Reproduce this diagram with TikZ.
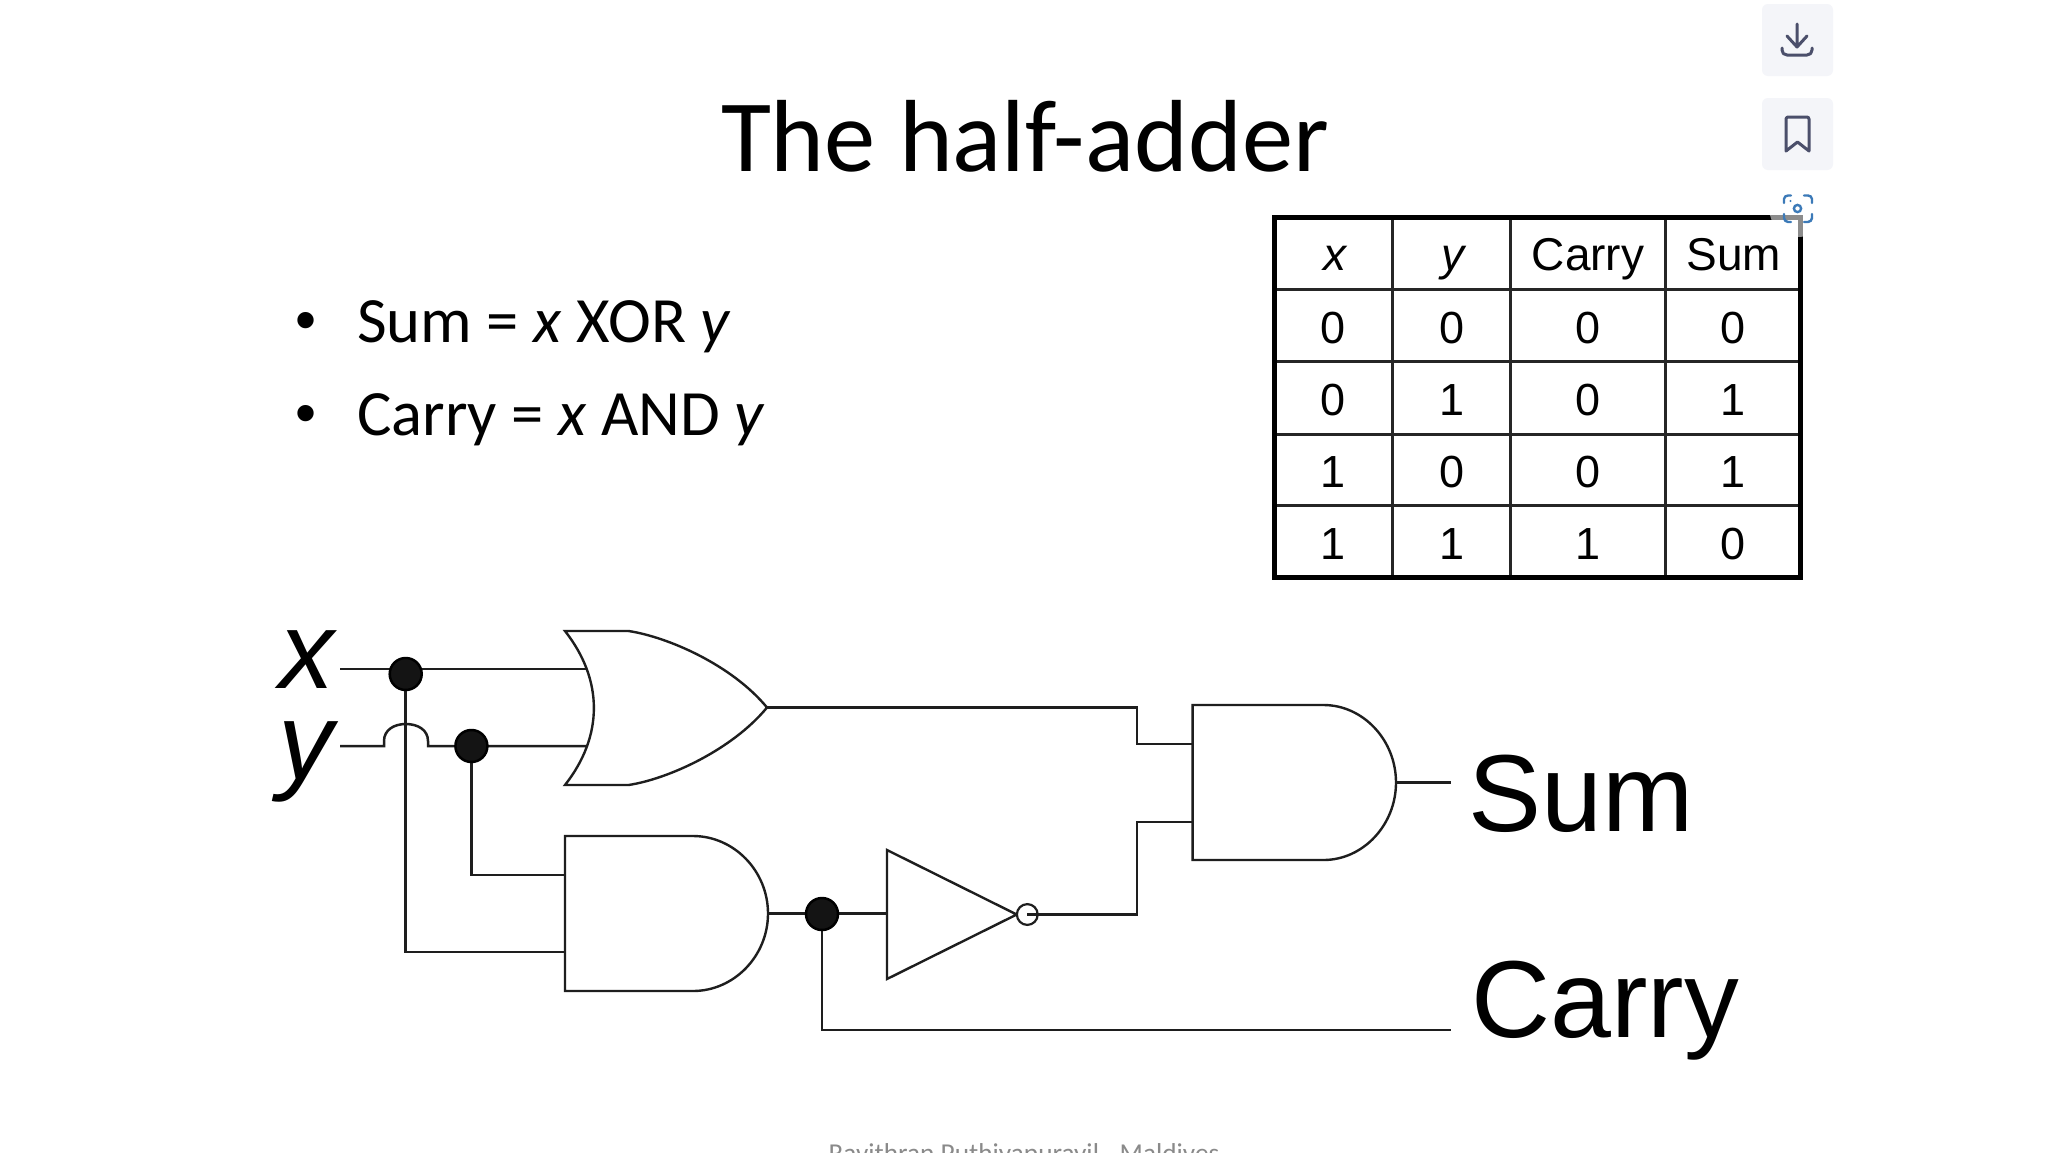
\documentclass[tikz,border=0pt]{standalone}
\usepackage{fontspec}
\setmainfont{Liberation Sans}
\newfontfamily\slidefont{Carlito}
\definecolor{wirecol}{HTML}{1E1E1E}
\definecolor{iconcol}{HTML}{4B4F6B}
\definecolor{btncol}{HTML}{F4F5F9}
\definecolor{scancol}{HTML}{3C7AB8}
\definecolor{footcol}{HTML}{8A8A8A}
\tikzset{
  wireline/.style={draw=wirecol,line width=2.5pt,line join=miter},
  gateline/.style={draw=wirecol,line width=2.4pt,line join=miter},
  jdot/.style={circle,draw=black,fill=black!92,line width=2.5pt,minimum size=32pt,inner sep=0pt},
  bubble/.style={circle,draw=wirecol,fill=white,line width=2.2pt,minimum size=20.8pt,inner sep=0pt},
  bigtext/.style={inner sep=0pt,anchor=base west,font=\fontsize{109.5}{112}\selectfont},
  sidetext/.style={inner sep=0pt,anchor=base west,font=\slidefont\fontsize{64.6}{70}\selectfont},
  bullettext/.style={inner sep=0pt,anchor=base west,font=\fontsize{60}{70}\selectfont},
  cellnum/.style={inner sep=0pt,anchor=base,font=\fontsize{45}{50}\selectfont},
  cellhead/.style={inner sep=0pt,anchor=base,font=\fontsize{46}{50}\selectfont},
  thinrule/.style={draw=black!85,line width=2.8pt},
  btn/.style={fill=btncol,rounded corners=6pt},
  iconline/.style={draw=iconcol,line width=3pt,line cap=round,line join=round},
  scanline/.style={draw=scancol,line width=2.4pt,line cap=round}
}
\begin{document}
\begin{tikzpicture}[x=1pt,y=-1pt]
\useasboundingbox (0,0) rectangle (2048,1152);
\fill[white] (0,0) rectangle (2048,1152);

% title and bullets
\node[inner sep=0pt,anchor=base,font=\slidefont\fontsize{102.5}{110}\selectfont] (title) at (1025,171) {The half-adder};
\node[bullettext] (b1) at (295,340) {•};
\node[sidetext] (sumeq) at (357,342) {Sum = \textit{x} XOR \textit{y}};
\node[bullettext] (b2) at (295,433) {•};
\node[sidetext] (carryeq) at (357,435) {Carry = \textit{x} AND \textit{y}};

% truth table
\draw[thinrule]
  (1392.5,217.7) -- (1392.5,577.7)
  (1510.7,217.7) -- (1510.7,577.7)
  (1665.7,217.7) -- (1665.7,577.7)
  (1274.6,289.3) -- (1800,289.3)
  (1274.6,361.7) -- (1800,361.7)
  (1274.6,434.3) -- (1800,434.3)
  (1274.6,505.7) -- (1800,505.7);
\draw[draw=black,line width=5pt] (1274.6,217.7) rectangle (1800,577.7);
\node[cellhead] (h1) at (1335.5,270) {\textit{x}};
\node[cellhead] (h2) at (1454.5,270) {\textit{y}};
\node[cellhead] (h3) at (1588,270) {Carry};
\node[cellhead] (h4) at (1734,270) {Sum};
\node[cellnum] (a1) at (1333,343) {0};
\node[cellnum] (a2) at (1452,343) {0};
\node[cellnum] (a3) at (1588,343) {0};
\node[cellnum] (a4) at (1733,343) {0};
\node[cellnum] (b1c) at (1333,415) {0};
\node[cellnum] (b2c) at (1452,415) {1};
\node[cellnum] (b3c) at (1588,415) {0};
\node[cellnum] (b4c) at (1733,415) {1};
\node[cellnum] (c1) at (1333,487) {1};
\node[cellnum] (c2) at (1452,487) {0};
\node[cellnum] (c3) at (1588,487) {0};
\node[cellnum] (c4) at (1733,487) {1};
\node[cellnum] (d1) at (1333,559) {1};
\node[cellnum] (d2) at (1452,559) {1};
\node[cellnum] (d3) at (1588,559) {1};
\node[cellnum] (d4) at (1733,559) {0};

% side buttons
\fill[btn] (1762,4) rectangle (1833,76);
\fill[btn] (1762,98) rectangle (1833,170);
\draw[iconline] (1797,24) -- (1797,47) (1787,36) -- (1797,47) -- (1807,36);
\draw[iconline] (1782,48) -- (1782,50) .. controls (1782,53) and (1784,55) .. (1787,55) -- (1807,55) .. controls (1810,55) and (1812,53) .. (1812,50) -- (1812,48);
\draw[iconline] (1786,151) -- (1786,119) .. controls (1786,118) and (1787,117) .. (1788,117) -- (1807,117) .. controls (1808,117) and (1809,118) .. (1809,119) -- (1809,151) -- (1797.5,142) -- cycle;
\fill[white,opacity=.55] (1798,208) circle[radius=29];
\draw[scanline]
  (1784,203) -- (1784,199) .. controls (1784,197) and (1786,195.5) .. (1788,195.5) -- (1791,195.5)
  (1804,195.5) -- (1808,195.5) .. controls (1810,195.5) and (1812,197) .. (1812,199) -- (1812,203)
  (1812,214) -- (1812,218) .. controls (1812,220) and (1810,222) .. (1808,222) -- (1804,222)
  (1791,222) -- (1788,222) .. controls (1786,222) and (1784,220) .. (1784,218) -- (1784,214);
\draw[scanline] (1797.5,208.5) circle[radius=3.6];
\fill[scancol] (1790.5,201) circle[radius=1.2];

% circuit: input and output labels
\node[bigtext] (xlab) at (279,688) {\textit{x}};
\node[bigtext] (ylab) at (278,779) {\textit{y}};
\node[bigtext] (sumlab) at (1468,831) {Sum};
\node[bigtext] (carrylab) at (1471,1037) {Carry};

% pins and free wire ends
\coordinate (xin) at (340,669);
\coordinate (yin) at (340,746);
\coordinate (hopa) at (384,746);
\coordinate (hopb) at (428,746);
\coordinate (orA) at (586,669);
\coordinate (orB) at (586,746);
\coordinate (orOut) at (767,707.5);
\coordinate (andA) at (565,875);
\coordinate (andB) at (565,952);
\coordinate (andOut) at (768,913.5);
\coordinate (notIn) at (887,913.5);
\coordinate (and2A) at (1192.6,744);
\coordinate (and2B) at (1192.6,822);
\coordinate (and2Out) at (1396,782.5);
\coordinate (sumEnd) at (1450.5,782.5);
\coordinate (carryEnd) at (1450.5,1030);
\coordinate (bendA) at (1137,707.5);
\coordinate (bendB) at (1137,744);
\coordinate (bendC) at (1137,822);
\coordinate (bendD) at (1137,914.5);
\coordinate (xbend) at (405.7,952);
\coordinate (ybend) at (471.4,875);
\coordinate (cbend) at (822,1030);

% wires
\draw[wireline] (xin) -- (orA);
\draw[wireline] (yin) -- (hopa) -- (384,741) .. controls (384,730) and (394,724) .. (405.7,724) .. controls (418,724) and (428,730) .. (428,741) -- (hopb) -- (orB);
\draw[wireline] (405.7,674) -- (xbend) -- (andB);
\draw[wireline] (471.4,746) -- (ybend) -- (andA);
\draw[wireline] (andOut) -- (notIn);
\draw[wireline] (822,914) -- (cbend) -- (carryEnd);
\draw[wireline] (orOut) -- (bendA) -- (bendB) -- (and2A);
\draw[wireline] (and2Out) -- (sumEnd);

% gates
\draw[gateline] (565,631) -- (628.6,631) .. controls (668,637) and (732,665) .. (767,707.5)
  .. controls (732,750) and (668,779) .. (628.6,785) -- (565,785)
  .. controls (603.5,736) and (603.5,680) .. (565,631) -- cycle;
\draw[gateline] (565,836) -- (693,836) .. controls (734,836) and (768,871) .. (768,913.5)
  .. controls (768,956) and (734,991) .. (693,991) -- (565,991) -- cycle;
\draw[gateline] (1192.6,705) -- (1323.5,705) .. controls (1363,705) and (1396,740) .. (1396,782.5)
  .. controls (1396,825) and (1363,860) .. (1323.5,860) -- (1192.6,860) -- cycle;
\draw[gateline] (887,850) -- (1016.7,914.5) -- (887,979) -- cycle;

% junction dots and inverter bubble
\node[jdot] (jx) at (405.7,674) {};
\node[jdot] (jy) at (471.4,746) {};
\node[jdot] (jc) at (822,914) {};
\node[bubble] (bub) at (1027.3,914.5) {};
\draw[wireline] (bub.center) -- (bendD) -- (bendC) -- (and2B);

% clipped footer
\begin{scope}
\clip (0,0) rectangle (2048,1152);
\node[inner sep=0pt,anchor=base,text=footcol,font=\slidefont\fontsize{27.3}{30}\selectfont] (foot) at (1024,1162) {Ravithran Puthiyapurayil - Maldives};
\end{scope}
\end{tikzpicture}
\end{document}
